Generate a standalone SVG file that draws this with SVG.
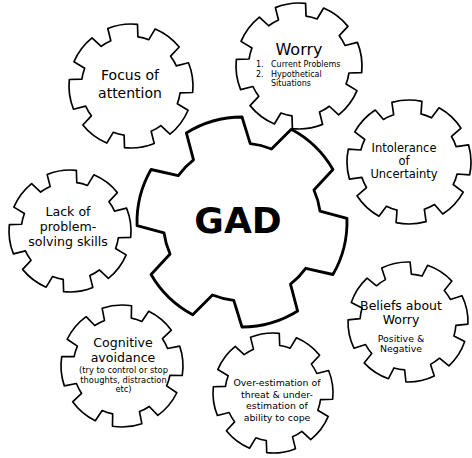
<svg xmlns="http://www.w3.org/2000/svg" xmlns:xlink="http://www.w3.org/1999/xlink" width="472" height="458" viewBox="0 0 472 458">
<style>
.gear{fill:#fff;stroke:#000;stroke-width:2.7;stroke-linejoin:round}
.t{font-family:"DejaVu Sans",Verdana,sans-serif;fill:#000;text-anchor:middle}
.l{font-family:"DejaVu Sans",Verdana,sans-serif;fill:#000;text-anchor:start}
</style>
<defs>
<path id="g8" d="M76.9,-22.05 L97.03,-24.19 A100,100 0 0 1 97.03,24.19 L76.9,22.05 A80,80 0 0 1 69.97,38.78 L85.72,51.5 A100,100 0 0 1 51.5,85.72 L38.78,69.97 A80,80 0 0 1 22.05,76.9 L24.19,97.03 A100,100 0 0 1 -24.19,97.03 L-22.05,76.9 A80,80 0 0 1 -38.78,69.97 L-51.5,85.72 A100,100 0 0 1 -85.72,51.5 L-69.97,38.78 A80,80 0 0 1 -76.9,22.05 L-97.03,24.19 A100,100 0 0 1 -97.03,-24.19 L-76.9,-22.05 A80,80 0 0 1 -69.97,-38.78 L-85.72,-51.5 A100,100 0 0 1 -51.5,-85.72 L-38.78,-69.97 A80,80 0 0 1 -22.05,-76.9 L-24.19,-97.03 A100,100 0 0 1 24.19,-97.03 L22.05,-76.9 A80,80 0 0 1 38.78,-69.97 L51.5,-85.72 A100,100 0 0 1 85.72,-51.5 L69.97,-38.78 A80,80 0 0 1 76.9,-22.05 Z"/>
<path id="g6" d="M69.54,-28.1 L96.13,-27.56 A100,100 0 0 1 96.13,27.56 L69.54,28.1 A75,75 0 0 1 59.1,46.17 L71.93,69.47 A100,100 0 0 1 24.19,97.03 L10.44,74.27 A75,75 0 0 1 -10.44,74.27 L-24.19,97.03 A100,100 0 0 1 -71.93,69.47 L-59.1,46.17 A75,75 0 0 1 -69.54,28.1 L-96.13,27.56 A100,100 0 0 1 -96.13,-27.56 L-69.54,-28.1 A75,75 0 0 1 -59.1,-46.17 L-71.93,-69.47 A100,100 0 0 1 -24.19,-97.03 L-10.44,-74.27 A75,75 0 0 1 10.44,-74.27 L24.19,-97.03 A100,100 0 0 1 71.93,-69.47 L59.1,-46.17 A75,75 0 0 1 69.54,-28.1 Z"/>
</defs>
<rect width="472" height="458" fill="#fff"/>
<g id="connectors"/>
<g id="gad">
<use xlink:href="#g6" href="#g6" class="gear" style="stroke-width:2.7" transform="translate(242,222) rotate(14) scale(1.05)"/>
<text class="t" x="238" y="233" font-size="36" font-weight="bold">GAD</text>
</g>
<g id="focus">
<use xlink:href="#g8" href="#g8" class="gear" transform="translate(131,86) rotate(-8) scale(0.62)"/>
<text class="t" x="130" y="80" font-size="14">Focus of</text>
<text class="t" x="130" y="98" font-size="14">attention</text>
</g>
<g id="worry">
<use xlink:href="#g8" href="#g8" class="gear" transform="translate(299,66) rotate(-8) scale(0.63)"/>
<text class="t" x="299" y="55" font-size="16">Worry</text>
<text class="l" x="256" y="67" font-size="8">1.</text>
<text class="l" x="271" y="67" font-size="8">Current Problems</text>
<text class="l" x="256" y="76.5" font-size="8">2.</text>
<text class="l" x="271" y="76.5" font-size="8">Hypothetical</text>
<text class="l" x="271" y="86" font-size="8">Situations</text>
</g>
<g id="intolerance">
<use xlink:href="#g8" href="#g8" class="gear" transform="translate(409,162) rotate(-2) scale(0.62)"/>
<text class="t" x="404" y="152" font-size="11.5">Intolerance</text>
<text class="t" x="404" y="165" font-size="11.5">of</text>
<text class="t" x="404" y="178" font-size="11.5">Uncertainty</text>
</g>
<g id="lack">
<use xlink:href="#g8" href="#g8" class="gear" transform="translate(70,231) rotate(-8) scale(0.61)"/>
<text class="t" x="68" y="216" font-size="12.6">Lack of</text>
<text class="t" x="68" y="231" font-size="12.6">problem-</text>
<text class="t" x="68" y="246" font-size="12.6">solving skills</text>
</g>
<g id="beliefs">
<use xlink:href="#g8" href="#g8" class="gear" transform="translate(408,322) rotate(-12) scale(0.6)"/>
<text class="t" x="401" y="310" font-size="12.5">Beliefs about</text>
<text class="t" x="401" y="324" font-size="12.5">Worry</text>
<text class="t" x="401" y="341.5" font-size="9.4">Positive &amp;</text>
<text class="t" x="401" y="352" font-size="9.4">Negative</text>
</g>
<g id="cognitive">
<use xlink:href="#g8" href="#g8" class="gear" transform="translate(122,366) rotate(-5) scale(0.61)"/>
<text class="t" x="123" y="347" font-size="12.6">Cognitive</text>
<text class="t" x="123" y="362" font-size="12.6">avoidance</text>
<text class="t" x="123.5" y="373" font-size="8.3">(try to control or stop</text>
<text class="t" x="123.5" y="383" font-size="8.3">thoughts, distraction</text>
<text class="t" x="123.5" y="392" font-size="8.3">etc)</text>
</g>
<g id="overestimation">
<use xlink:href="#g8" href="#g8" class="gear" transform="translate(273,393) rotate(-8) scale(0.6)"/>
<text class="t" x="277" y="386" font-size="9.4">Over-estimation of</text>
<text class="t" x="277" y="397.7" font-size="9.4">threat &amp; under-</text>
<text class="t" x="277" y="409.3" font-size="9.4">estimation of</text>
<text class="t" x="277" y="420.8" font-size="9.4">ability to cope</text>
</g>
</svg>
